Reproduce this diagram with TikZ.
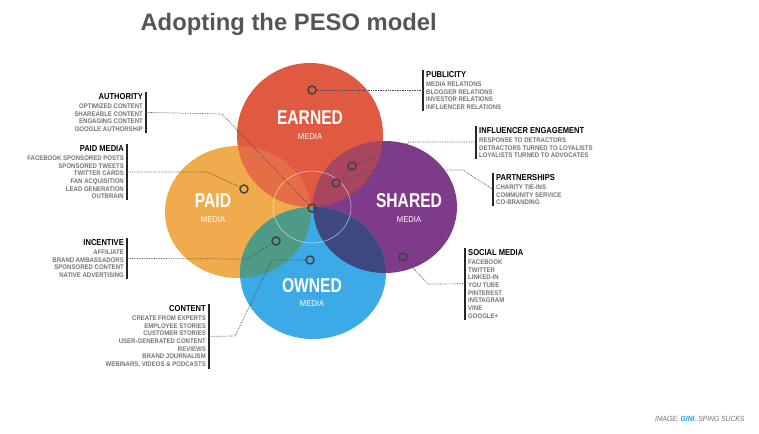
\documentclass[tikz,border=0pt]{standalone}
\usepackage{fontspec}
\setmainfont{Liberation Sans}
\newfontfamily\hdfont[FakeStretch=0.88]{Liberation Sans Bold}
\newfontfamily\itemfont[FakeStretch=0.9]{Liberation Sans Bold}
\newfontfamily\medfont[FakeStretch=0.9]{Liberation Sans}
\newfontfamily\bigfont[FakeStretch=0.78]{Liberation Sans Bold}
\definecolor{earned}{HTML}{E05A41}
\definecolor{paid}{HTML}{F0AC4C}
\definecolor{owned}{HTML}{3BAAE6}
\definecolor{shared}{HTML}{7E3B8A}
\definecolor{pe}{HTML}{E66E47}
\definecolor{es}{HTML}{A8455F}
\definecolor{so}{HTML}{3F4780}
\definecolor{op}{HTML}{4E9A86}
\definecolor{itemgray}{HTML}{747474}
\definecolor{titlegray}{HTML}{555555}
\definecolor{creditblue}{HTML}{1BA1E2}
\tikzset{
  lab/.style={inner xsep=3pt,inner ysep=1pt,font=\itemfont\fontsize{6.7}{7.7}\selectfont,text=itemgray},
  labL/.style={lab,align=right,anchor=north east},
  labR/.style={lab,align=left,anchor=north west},
  bar/.style={line width=1.3pt,black!85},
  ring/.style={circle,draw=black!75,line width=1.4pt,minimum size=8pt,inner sep=0pt},
  dots/.style={densely dotted,line width=0.7pt,black!70},
  big/.style={text=white,font=\bigfont\fontsize{20}{20}\selectfont},
  med/.style={text=white,font=\medfont\fontsize{8.5}{9}\selectfont}
}
\newcommand{\hd}[1]{{\hdfont\fontsize{8.6}{8}\selectfont\color{black}#1}\\[1.5pt]}
\begin{document}
\begin{tikzpicture}[x=1pt,y=-1pt]
\useasboundingbox (0,0) rectangle (759,433);
\fill[white] (0,0) rectangle (759,433);
\node[anchor=west,text=titlegray,font=\bfseries\fontsize{23.8}{24}\selectfont] (title) at (137,24) {Adopting the PESO model};
% ellipses
\def\Pe{(238,212) ellipse [x radius=73,y radius=66]}
\def\Ee{(310,135) ellipse [x radius=73,y radius=72]}
\def\Se{(385,207) ellipse [x radius=72,y radius=66]}
\def\Oe{(313,273) ellipse [x radius=73,y radius=66]}
\fill[paid] \Pe;
\fill[earned] \Ee;
\fill[shared] \Se;
\fill[owned] \Oe;
\begin{scope}\clip \Pe; \fill[pe] \Ee; \end{scope}
\begin{scope}\clip \Ee; \fill[es] \Se; \end{scope}
\begin{scope}\clip \Se; \fill[so] \Oe; \end{scope}
\begin{scope}\clip \Oe; \fill[op] \Pe; \end{scope}
\draw[white,opacity=0.6,line width=0.6pt] (312,207) ellipse [x radius=39,y radius=36];
\node[big] (earned) at (310,118) {EARNED};
\node[med] (earnedm) at (310,137) {MEDIA};
\node[big] (paid) at (213,201) {PAID};
\node[med] (paidm) at (213,220) {MEDIA};
\node[big] (shared) at (409,201) {SHARED};
\node[med] (sharedm) at (409,220) {MEDIA};
\node[big] (owned) at (312,286) {OWNED};
\node[med] (ownedm) at (312,304) {MEDIA};
% markers
\node[ring] (m1) at (312,90) {};
\node[ring] (m2) at (352,166) {};
\node[ring] (m3) at (336,183) {};
\node[ring] (m4) at (244,189) {};
\node[ring] (m5) at (312,208) {};
\node[ring] (m6) at (276,241) {};
\node[ring] (m7) at (310,260) {};
\node[ring] (m8) at (403,257) {};
% labels
\node[labL] (auth) at (146,92) {\hd{AUTHORITY}OPTIMIZED CONTENT\\SHAREABLE CONTENT\\ENGAGING CONTENT\\GOOGLE AUTHORSHIP};
\node[labL] (pm) at (127,144) {\hd{PAID MEDIA}FACEBOOK SPONSORED POSTS\\SPONSORED TWEETS\\TWITTER CARDS\\FAN ACQUISITION\\LEAD GENERATION\\OUTBRAIN};
\node[labL] (inc) at (127,238) {\hd{INCENTIVE}AFFILIATE\\BRAND AMBASSADORS\\SPONSORED CONTENT\\NATIVE ADVERTISING};
\node[labL] (cont) at (209,304) {\hd{CONTENT}CREATE FROM EXPERTS\\EMPLOYEE STORIES\\CUSTOMER STORIES\\USER-GENERATED CONTENT\\REVIEWS\\BRAND JOURNALISM\\WEBINARS, VIDEOS \& PODCASTS};
\node[labR] (pub) at (423,70) {\hd{PUBLICITY}MEDIA RELATIONS\\BLOGGER RELATIONS\\INVESTOR RELATIONS\\INFLUENCER RELATIONS};
\node[labR] (infl) at (476,126) {\hd{INFLUENCER ENGAGEMENT}RESPONSE TO DETRACTORS\\DETRACTORS TURNED TO LOYALISTS\\LOYALISTS TURNED TO ADVOCATES};
\node[labR] (part) at (493,173) {\hd{PARTNERSHIPS}CHARITY TIE-INS\\COMMUNITY SERVICE\\CO-BRANDING};
\node[labR] (soc) at (465,248) {\hd{SOCIAL MEDIA}FACEBOOK\\TWITTER\\LINKED-IN\\YOU TUBE\\PINTEREST\\INSTAGRAM\\VINE\\GOOGLE+};
\foreach \n in {auth,pm,inc,cont} \draw[bar] (\n.north east) -- (\n.south east);
\foreach \n in {pub,infl,part,soc} \draw[bar] (\n.north west) -- (\n.south west);
% connectors
\draw[dots] (auth.east) -- (222,114) -- (m5);
\draw[dots] (pm.east) -- (207,172) -- (m4);
\draw[dots] (inc.east) -- (247,259) -- (m6);
\draw[dots] (cont.east) -- (235,336) -- (272,260) -- (m7);
\draw[dots] (m1) -- (pub.west |- m1);
\draw[dots] (m2) -- (410,142) -- (infl.west |- 0,142);
\draw[dots] (m3) -- (372,170) -- (463,170) -- (part.west);
\draw[dots] (m8) -- (428,284) -- (soc.west);
\node[anchor=east,text=itemgray,font=\medfont\itshape\fontsize{7.5}{8}\selectfont] (credit) at (748,419) {IMAGE: {\color{creditblue}\bfseries GINI}, SPING SUCKS};
\end{tikzpicture}
\end{document}
